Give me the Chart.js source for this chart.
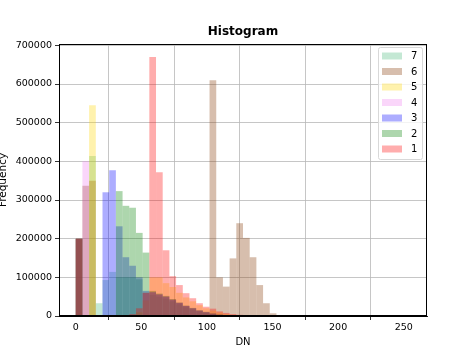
<!DOCTYPE html>
<html><head><meta charset="utf-8">
<script src="https://cdn.jsdelivr.net/npm/chart.js@4"></script>
<style>html,body{margin:0;padding:0;background:#fff}#wrap{width:474px;height:355px}</style>
</head><body><div id="wrap"><canvas id="c" width="474" height="355"></canvas></div>
<script>
// Bin centres (DN), bin width 5.1
const binCenters = [2.55, 7.65, 12.75, 17.85, 22.95, 28.05, 33.15, 38.25, 43.35, 48.45, 53.55, 58.65, 63.75, 68.85, 73.95, 79.05, 84.15, 89.25, 94.35, 99.45, 104.55, 109.65, 114.75, 119.85, 124.95, 130.05, 135.15, 140.25, 145.35, 150.45, 155.55];
const seriesNames = ['7', '6', '5', '4', '3', '2', '1'];
const band7 = [200000, 0, 414000, 33000, 93000, 114000, 100000, 100000, 100000, 95000, 60000, 55000, 50000, 45000, 38000, 30000, 23000, 17000, 12000, 8000, 5000, 3000, 1500, 0, 0, 0, 0, 0, 0, 0, 0];
const band6 = [200000, 337000, 350000, 0, 0, 0, 0, 0, 0, 0, 0, 0, 0, 0, 0, 0, 0, 0, 0, 0, 610000, 100000, 76000, 149000, 240000, 202000, 152000, 80000, 33000, 7000, 1000];
const band5 = [200000, 0, 545000, 0, 0, 0, 0, 0, 0, 10000, 40000, 100000, 100000, 85000, 75000, 60000, 48000, 38000, 28000, 20000, 14000, 9000, 5000, 3000, 1000, 0, 0, 0, 0, 0, 0];
const band4 = [200000, 400000, 0, 0, 0, 0, 0, 0, 0, 0, 60000, 60000, 55000, 50000, 42000, 34000, 26000, 20000, 14000, 10000, 6000, 3000, 1500, 0, 0, 0, 0, 0, 0, 0, 0];
const band3 = [200000, 0, 0, 0, 320000, 377000, 232000, 152000, 130000, 100000, 65000, 62000, 56000, 50000, 42000, 34000, 26000, 20000, 14000, 10000, 6000, 3000, 1500, 0, 0, 0, 0, 0, 0, 0, 0];
const band2 = [200000, 0, 0, 0, 0, 0, 323000, 285000, 280000, 215000, 164000, 65000, 58000, 52000, 44000, 35000, 27000, 21000, 15000, 11000, 7000, 4000, 2000, 0, 0, 0, 0, 0, 0, 0, 0];
const band1 = [200000, 0, 0, 0, 0, 0, 0, 0, 5000, 20000, 60000, 670000, 372000, 170000, 103000, 80000, 59000, 46000, 33000, 24000, 19000, 12000, 8000, 5000, 3000, 2000, 1000, 0, 0, 0, 0];
const xTicks = [0, 50, 100, 150, 200, 250];
const yTicks = [0, 100000, 200000, 300000, 400000, 500000, 600000, 700000];

const seriesData = [band7, band6, band5, band4, band3, band2, band1];
const colors = ['rgba(60,179,113,0.3)', 'rgba(139,69,19,0.35)', 'rgba(255,215,0,0.32)', 'rgba(238,120,238,0.3)', 'rgba(0,0,255,0.32)', 'rgba(0,128,0,0.32)', 'rgba(255,0,0,0.32)'];

const FONT = 'DejaVu Sans';
const datasets = seriesNames.map((n, i) => ({
  label: n,
  data: binCenters.map((c, k) => ({x: c, y: seriesData[i][k]})),
  backgroundColor: colors[i],
  borderWidth: 0,
  grouped: false,
  barPercentage: 1,
  categoryPercentage: 1,
  inflateAmount: 0,
  order: 7 - i
}));

const deco = {
  id: 'deco',
  afterDraw(chart) {
    const ctx = chart.ctx, a = chart.chartArea;
    ctx.save();
    ctx.strokeStyle = '#000'; ctx.lineWidth = 1;
    ctx.strokeRect(Math.round(a.left) + 0.5, Math.round(a.top) + 0.5, Math.round(a.right - a.left) - 1, Math.round(a.bottom - a.top) - 1);
    ctx.fillStyle = '#000';
    ctx.textAlign = 'center'; ctx.textBaseline = 'middle';
    ctx.font = 'bold 12px "' + FONT + '"';
    ctx.fillText('Histogram', (a.left + a.right) / 2, 32);
    ctx.font = '10px "' + FONT + '"';
    ctx.fillText('DN', (a.left + a.right) / 2, 342);
    ctx.save();
    ctx.translate(3, (a.top + a.bottom) / 2);
    ctx.rotate(-Math.PI / 2);
    ctx.font = '10.5px "' + FONT + '"';
    ctx.fillText('Frequency', 0, 0);
    ctx.restore();
    // legend
    const lx = 378, ly = 47, lw = 44, lh = 112;
    ctx.fillStyle = 'rgba(255,255,255,0.8)';
    ctx.strokeStyle = '#d8d8d8'; ctx.lineWidth = 1;
    ctx.beginPath();
    ctx.roundRect(lx + 0.5, ly + 0.5, lw, lh, 2);
    ctx.fill(); ctx.stroke();
    ctx.textAlign = 'left';
    ctx.font = '10px "' + FONT + '"';
    seriesNames.forEach((n, i) => {
      const cy = 56 + i * 15.5;
      ctx.fillStyle = colors[i];
      ctx.fillRect(382, cy - 3.5, 20, 7);
      ctx.fillStyle = '#000';
      ctx.fillText(n, 411, cy + 0.5);
    });
    ctx.restore();
  }
};

new Chart(document.getElementById('c'), {
  type: 'bar',
  data: {datasets},
  plugins: [deco],
  options: {
    responsive: false,
    devicePixelRatio: 1,
    animation: false,
    layout: {padding: {top: 44, right: 47, left: 0, bottom: 0}},
    plugins: {legend: {display: false}, title: {display: false}, tooltip: {enabled: false}},
    scales: {
      x: {
        type: 'linear', min: -12.75, max: 267.75, offset: false,
        afterBuildTicks: s => { s.ticks = xTicks.map(v => ({value: v})); },
        afterFit: s => { s.height = 39; },
        grid: {color: '#b8b8b8', lineWidth: 0.8, tickColor: '#000', tickLength: 4, tickWidth: 0.8},
        border: {display: true, color: '#000', width: 1},
        ticks: {color: '#000', font: {family: FONT, size: 9.5}, padding: 2, maxRotation: 0, autoSkip: false}
      },
      y: {
        type: 'linear', min: 0, max: 703500,
        afterBuildTicks: s => { s.ticks = yTicks.map(v => ({value: v})); },
        afterFit: s => { s.width = 59; },
        grid: {color: '#b8b8b8', lineWidth: 0.8, tickColor: '#000', tickLength: 4, tickWidth: 0.8},
        border: {display: true, color: '#000', width: 1},
        ticks: {color: '#000', font: {family: FONT, size: 9.5}, padding: 3, autoSkip: false, callback: v => String(v)}
      }
    }
  }
});
</script>
</body></html>
